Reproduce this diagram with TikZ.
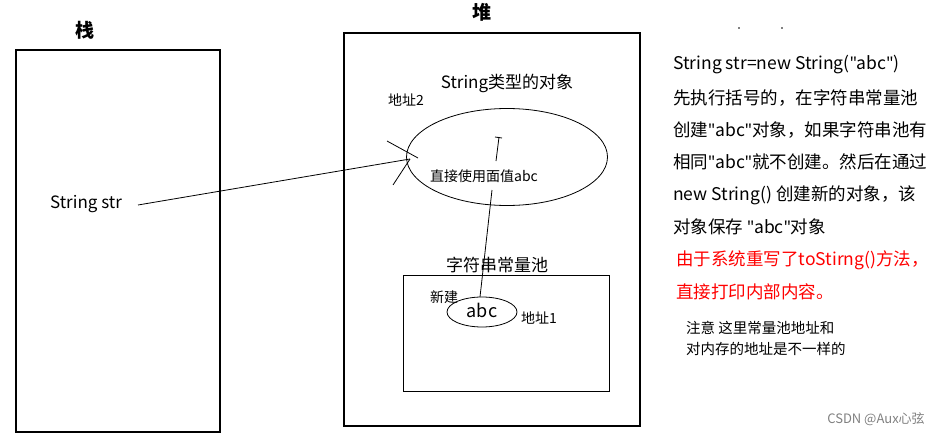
\documentclass[tikz,border=0pt]{standalone}
\usepackage{fontspec}
\setmainfont{Noto Sans CJK SC}
\newfontfamily\latinf{Noto Sans}
\newcommand{\qq}{{\latinf"}}
\usetikzlibrary{shapes.geometric}
\begin{document}
\begin{tikzpicture}[x=1pt,y=-1pt,
  t/.style={inner sep=0pt,anchor=center,font=\fontsize{17}{19}\selectfont},
  rt/.style={inner sep=0pt,anchor=west,font=\fontsize{17.5}{19}\selectfont},
  st/.style={inner sep=0pt,anchor=center,font=\fontsize{14}{16}\selectfont},
  ln/.style={line width=0.8pt}]
\useasboundingbox (0,0) rectangle (940,436);
\draw[line width=1.6pt] (16,50) rectangle (220,432);
\node[t,font=\fontsize{19}{21}\selectfont\bfseries] (zhan) at (85,30) {栈};
\draw[line width=1.6pt] (344,33) rectangle (640,426);
\node[t,font=\fontsize{19}{21}\selectfont\bfseries] (dui) at (482,12) {堆};
\node[draw,ln,ellipse,minimum width=201pt,minimum height=97pt,inner sep=0pt] (obj) at (507,157) {};
\node[t] at (507,83) {String类型的对象};
\node[st] at (406,100) {地址2};
\node[st] (direct) at (484,176) {直接使用面值abc};
\node[t] (str) at (86,204) {String str};
\coordinate (tip) at (410,159);
\draw[ln] (138,205) -- (tip);
\draw[ln] (387,141) -- (418,158);
\draw[ln] (tip) -- (393,185);
\draw[draw,ln] (403,275) rectangle (609,391);
\node[t] at (497,265) {字符串常量池};
\node[st] at (444,297) {新建};
\node[draw,ln,ellipse,minimum width=70pt,minimum height=30pt,inner sep=0pt] (abc) at (482,312) {};
\node[t,font=\fontsize{18}{20}\selectfont] at (482,310) {abc};
\node[st] at (539,318) {地址1};
\draw[ln] (480,297) -- (492,190);
\draw[ln] (496,161) -- (499,137);
\draw[ln] (495,137) -- (502,138);
\node[rt] at (673,65) {String str=new String(\qq abc\qq)};
\node[rt] at (673,98) {先执行括号的，在字符串常量池};
\node[rt] at (673,130) {创建\qq abc\qq 对象，如果字符串池有};
\node[rt] at (673,162) {相同\qq abc\qq 就不创建。然后在通过};
\node[rt] at (673,195) {new String() 创建新的对象，该};
\node[rt] at (673,227) {对象保存 \qq abc\qq 对象};
\node[rt,text=red] at (676,260) {由于系统重写了toStirng()方法，};
\node[rt,text=red] at (676,292) {直接打印内部内容。};
\node[rt,font=\fontsize{14.5}{16}\selectfont] at (686,328) {注意 这里常量池地址和};
\node[rt,font=\fontsize{14.5}{16}\selectfont] at (686,349) {对内存的地址是不一样的};
\node[t,font=\fontsize{13}{15}\selectfont,text=gray] at (876,419) {CSDN @Aux心弦};
\fill (739,28) circle (0.8);
\fill (782,28) circle (0.8);
\end{tikzpicture}
\end{document}
